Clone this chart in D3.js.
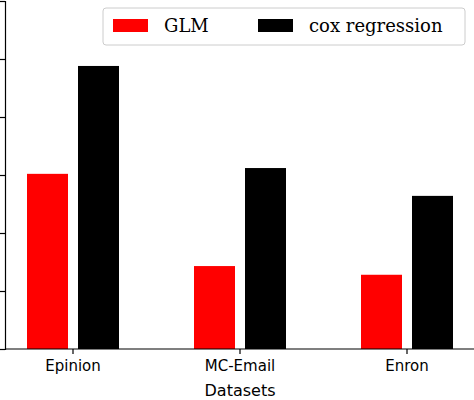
<!DOCTYPE html>
<html><head><meta charset="utf-8">
<script src="https://cdn.jsdelivr.net/npm/d3@7"></script>
<style>body{margin:0;background:#fff}</style>
</head><body>
<script>
var categories = ["Epinion", "MC-Email", "Enron"];
var seriesNames = ["GLM", "cox regression"];
var glm = [3.02, 1.43, 1.28];
var cox = [4.88, 3.12, 2.64];
var colors = ["#ff0000", "#000000"];
var yTicks = [0, 1, 2, 3, 4, 5, 6];

var W = 474, H = 400;
var mLeft = 5, mRight = 474, mTop = 1, mBottom = 349;

var svg = d3.select("body").append("svg").attr("width", W).attr("height", H);

var x = d3.scaleBand().domain(categories).range([-10.5, 490.5]).paddingInner(0).paddingOuter(0);
var y = d3.scaleLinear().domain([0, 6]).range([mBottom, mTop]);
var bw = 41;

var series = [glm, cox];
series.forEach(function (vals, s) {
  svg.selectAll(".b" + s).data(vals).enter().append("rect")
    .attr("x", function (d, i) { return x(categories[i]) + x.bandwidth() / 2 + (s === 0 ? -46 : 5); })
    .attr("y", function (d) { return y(d); })
    .attr("width", bw)
    .attr("height", function (d) { return mBottom - y(d); })
    .attr("fill", colors[s]);
});

// y axis (labels cropped off)
var ya = svg.append("g").attr("transform", "translate(" + mLeft + ",0)")
  .call(d3.axisLeft(y).tickValues(yTicks).tickFormat("").tickSize(5));
ya.selectAll("line,path").attr("stroke", "#000").attr("stroke-width", 1.2);

var xa = svg.append("g").attr("transform", "translate(0," + mBottom + ")")
  .call(d3.axisBottom(x).tickSize(5));
xa.select("path").remove();
xa.selectAll("line").attr("stroke", "#000").attr("stroke-width", 1.2);
xa.selectAll("text").attr("font-family", "DejaVu Sans").attr("font-size", 15).attr("fill", "#000").attr("dy", "0.9em");
svg.append("line").attr("x1", mLeft).attr("x2", mRight).attr("y1", mBottom).attr("y2", mBottom)
  .attr("stroke", "#000").attr("stroke-width", 1.2);

svg.append("text").attr("x", 240).attr("y", 396).attr("text-anchor", "middle")
  .attr("font-family", "DejaVu Sans").attr("font-size", 16).text("Datasets");

// legend
var lg = svg.append("g");
lg.append("rect").attr("x", 103).attr("y", 8).attr("width", 362).attr("height", 37).attr("rx", 3)
  .attr("fill", "#fff").attr("stroke", "#ccc");
var lx = [113, 258];
seriesNames.forEach(function (n, i) {
  lg.append("rect").attr("x", lx[i]).attr("y", 19).attr("width", 35).attr("height", 13).attr("fill", colors[i]);
  lg.append("text").attr("x", lx[i] + 51).attr("y", 32).attr("font-family", "DejaVu Serif")
    .attr("font-size", 18).text(n);
});
</script>
</body></html>
